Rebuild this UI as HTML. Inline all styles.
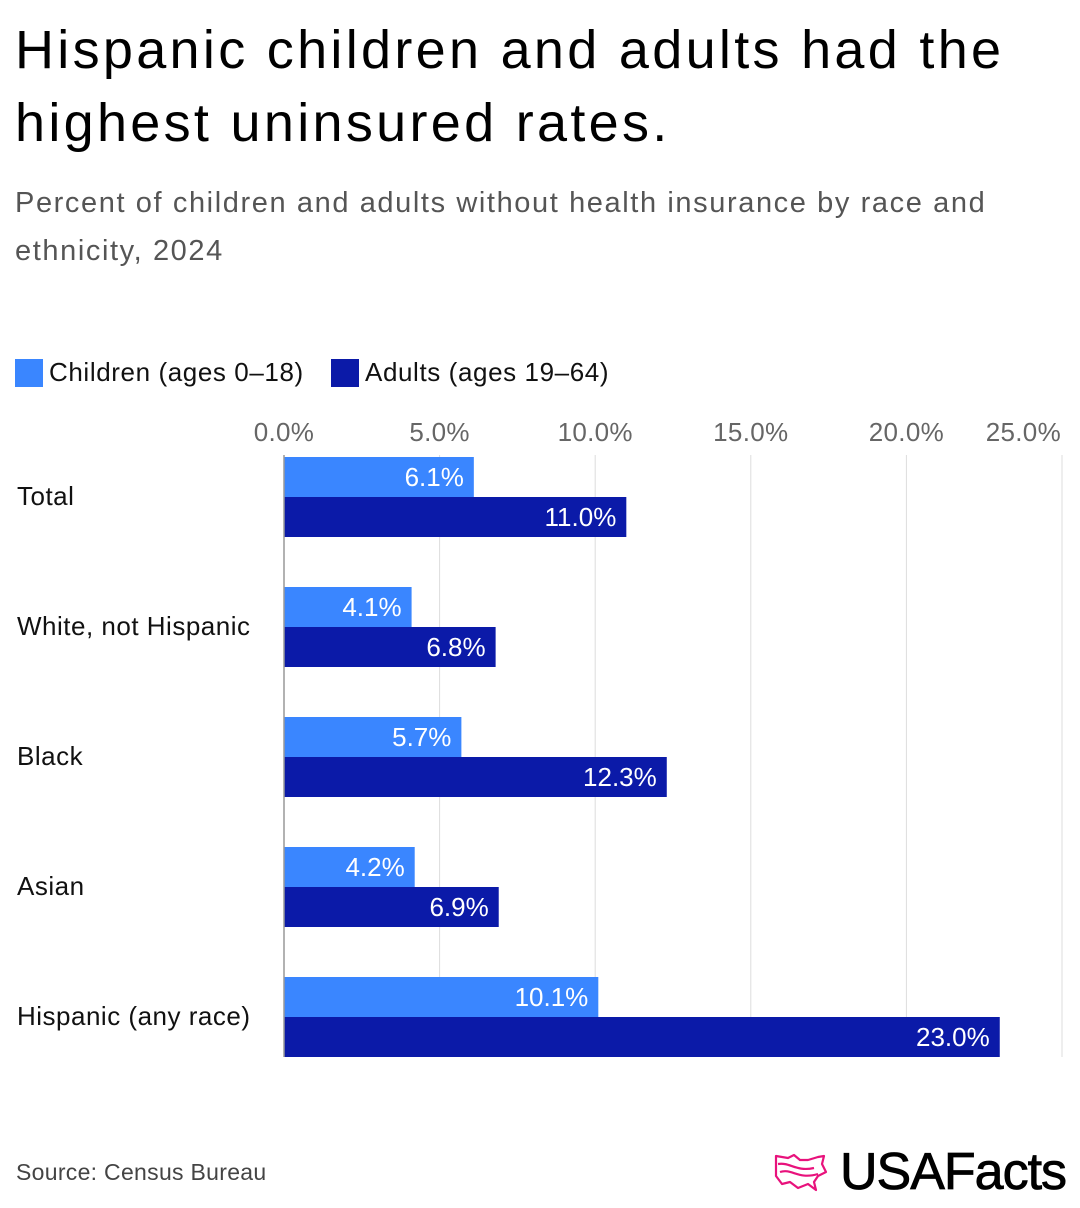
<!DOCTYPE html>
<html><head><meta charset="utf-8">
<style>
body{margin:0;background:#fff;font-family:"Liberation Sans",sans-serif;}
#root{position:relative;width:1080px;height:1208px;overflow:hidden;}
h1{position:absolute;left:15px;top:14px;margin:0;font-size:54px;font-weight:400;line-height:73px;color:#000;letter-spacing:3.3px;white-space:nowrap;}
.sub{position:absolute;left:15px;top:179px;margin:0;font-size:29px;line-height:48px;color:#555;letter-spacing:1.6px;white-space:nowrap;}
.legend{position:absolute;top:357px;font-size:26px;color:#111;display:flex;align-items:center;letter-spacing:0.6px;}
.sw{width:28px;height:28px;margin-right:6px;}
.src{position:absolute;left:16px;top:1159px;font-size:23px;color:#444;letter-spacing:0.3px;}
.logo{position:absolute;left:774px;top:1142px;display:flex;align-items:center;}
.logo span{font-size:52px;font-weight:400;color:#000;letter-spacing:-1px;margin-left:12px;-webkit-text-stroke:0.8px #000;}
</style></head>
<body><div id="root">
<h1>Hispanic children and adults had the<br>highest uninsured rates.</h1>
<p class="sub">Percent of children and adults without health insurance by race and<br>ethnicity, 2024</p>
<div class="legend" style="left:15px"><div class="sw" style="background:#3a86ff"></div>Children (ages 0–18)</div>
<div class="legend" style="left:331px"><div class="sw" style="background:#0b1aa8"></div>Adults (ages 19–64)</div>
<svg id="chart" width="1080" height="1100" style="position:absolute;left:0;top:0"></svg>
<div class="src">Source: Census Bureau</div>
<div class="logo">
<svg width="54" height="40" viewBox="0 0 54 40"><path d="M2 4 L14 6 L20 3 L26 8 L34 8 L44 5 L50 4 L48 12 L52 20 L44 24 L40 30 L42 38 L34 32 L24 36 L16 30 L8 32 L2 24 Z M4 12 C16 10 22 20 40 16 M6 20 C18 16 24 28 44 22" fill="none" stroke="#e8127c" stroke-width="2.2" stroke-linejoin="round"/></svg>
<span>USAFacts</span></div>
</div>
<script>
const categories=["Total","White, not Hispanic","Black","Asian","Hispanic (any race)"];
const childrenValues=[6.1,4.1,5.7,4.2,10.1];
const adultsValues=[11.0,6.8,12.3,6.9,23.0];
const tickValues=[0,5,10,15,20,25];
const svg=document.getElementById('chart');
const NS='http://www.w3.org/2000/svg';
const x0=284,pxPer=31.12;
function xScale(v){return x0+v*pxPer;}
function mk(tag,attrs){const e=document.createElementNS(NS,tag);for(const k in attrs)e.setAttribute(k,attrs[k]);svg.appendChild(e);return e;}
tickValues.forEach((t,i)=>{
  if(i>0){const g=mk('line',{x1:xScale(t),x2:xScale(t),y1:455,y2:1057,stroke:'#ddd','stroke-width':1});
  
  }
  const last=i===tickValues.length-1;
  const tx=mk('text',{x:last?1061:xScale(t),y:441,'font-size':26,fill:'#666','text-anchor':last?'end':'middle','font-family':'Liberation Sans, sans-serif','letter-spacing':'0.3'});
  tx.textContent=t.toFixed(1)+'%';
  
  
});
categories.forEach((c,i)=>{
  const y=457+i*130;
  const lab=mk('text',{x:17,y:y+48,'font-size':26,fill:'#111','font-family':'Liberation Sans, sans-serif','letter-spacing':'0.5'});
  lab.textContent=c;
  
  
  [[childrenValues[i],'#3a86ff',y,'bar-children'],[adultsValues[i],'#0b1aa8',y+40,'bar-adults']].forEach(([v,col,yy,nm])=>{
    const r=mk('rect',{x:x0,y:yy,width:xScale(v)-x0,height:40,fill:col});
    
    
    const t=mk('text',{x:xScale(v)-10,y:yy+29,'font-size':26,fill:'#fff','text-anchor':'end','font-family':'Liberation Sans, sans-serif'});
    t.textContent=v.toFixed(1)+'%';
    
    
  });
});
const ax=mk('line',{x1:x0,x2:x0,y1:455,y2:1057,stroke:'#999','stroke-width':1.5});


</script>
</body></html>
